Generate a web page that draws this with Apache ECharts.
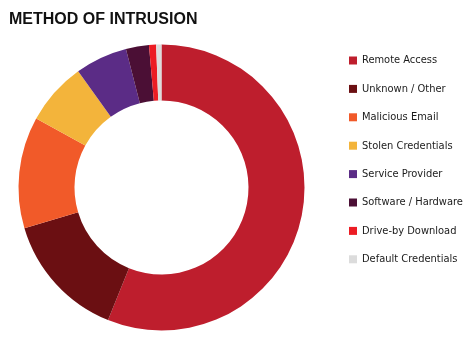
<!DOCTYPE html>
<html>
<head>
<meta charset="utf-8">
<script src="https://cdn.jsdelivr.net/npm/echarts@6/dist/echarts.min.js"></script>
<style>
html,body{margin:0;padding:0;background:#fff;}
#chart{width:474px;height:355px;}
</style>
</head>
<body>
<div id="chart"></div>
<script>
const categories = ['Remote Access','Unknown / Other','Malicious Email','Stolen Credentials','Service Provider','Software / Hardware','Drive-by Download','Default Credentials'];
const values = [56.1, 14.3, 12.6, 7.1, 5.9, 2.6, 0.8, 0.6];
const colors = ['#BE1E2D','#6B0F12','#F15A29','#F3B43B','#5B2C86','#4B0F35','#EC1C24','#DCDCDC'];

const chart = echarts.init(document.getElementById('chart'));
chart.setOption({
  animation: false,
  title: {
    text: 'METHOD OF INTRUSION',
    left: 4, top: 7,
    textStyle: {fontFamily: 'Liberation Sans', fontWeight: 'bold', fontSize: 16, color: '#111'}
  },
  legend: {
    orient: 'vertical',
    left: 344, top: 50,
    itemWidth: 8, itemHeight: 8,
    itemGap: 17.4,
    itemTextGap: 10,
    icon: 'rect',
    textStyle: {fontFamily: 'DejaVu Sans Condensed', fontSize: 11, color: '#1a1a1a'},
    data: categories
  },
  series: [{
    type: 'pie',
    center: [161.5, 187.5],
    radius: [87, 143],
    startAngle: 90,
    clockwise: true,
    label: {show: false},
    labelLine: {show: false},
    emphasis: {disabled: true},
    itemStyle: {borderWidth: 0},
    data: categories.map((c, i) => ({name: c, value: values[i], itemStyle: {color: colors[i]}}))
  }]
});
</script>
</body>
</html>
